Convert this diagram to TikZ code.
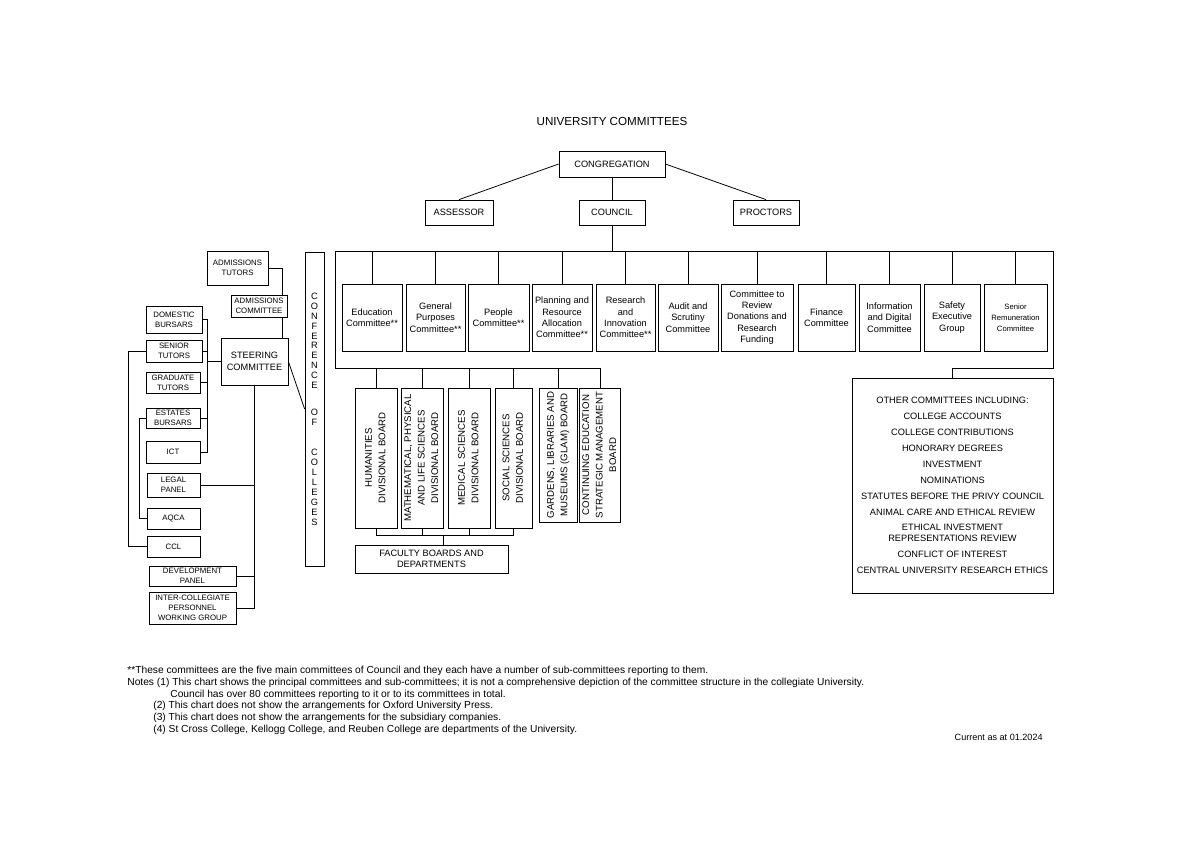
\documentclass[tikz,border=0pt]{standalone}
\usepackage{fontspec}
\setmainfont{Liberation Sans}
\usepackage{graphicx}
\usetikzlibrary{positioning,calc}

\newcommand{\vlabel}[1]{\rotatebox{90}{\begin{tabular}{@{}c@{}}#1\end{tabular}}}

\begin{document}
\begin{tikzpicture}[x=0.2475mm, y=-0.2475mm, line width=0.55pt,
    every node/.style={font=\fontsize{6.5}{7.9}\selectfont, align=center, inner sep=0pt},
    box/.style={draw, line width=0.55pt},
    sz/.style 2 args={minimum width=#1*0.2475mm, minimum height=#2*0.2475mm},
    comm/.style={box, minimum height=67*0.2475mm},
    small/.style={font=\fontsize{5.5}{7}\selectfont},
    board/.style={box, font=\fontsize{6.8}{9.5}\selectfont},
    note/.style={font=\fontsize{7.2}{8}\selectfont, align=left}]
  \useasboundingbox (0,0) rectangle (1200,849);

  \node[font=\fontsize{8.2}{9}\selectfont] (title) at (612,121) {UNIVERSITY COMMITTEES};

  % congregation and council
  \node[box, sz={106}{26}] (cong) at (612,164) {CONGREGATION};
  \node[box, sz={68}{25}] (assessor) at (459,212.5) {ASSESSOR};
  \node[box, sz={66}{25}] (council) at (612,212.5) {COUNCIL};
  \node[box, sz={66}{25}] (proctors) at (766,212.5) {PROCTORS};

  \draw (cong) -- (council);
  \draw (cong.west) -- (assessor.north);
  \draw (cong.east) -- (proctors.north);

  % committees of council
  \node[comm, minimum width=60*0.2475mm] (edu) at (372,317.5) {Education\\Committee**};
  \node[comm, minimum width=59*0.2475mm] (gp) at (435.5,317.5) {General\\Purposes\\Committee**};
  \node[comm, minimum width=61*0.2475mm] (people) at (498.5,317.5) {People\\Committee**};
  \node[comm, minimum width=60*0.2475mm] (plan) at (562,317.5) {Planning and\\Resource\\Allocation\\Committee**};
  \node[comm, minimum width=59*0.2475mm] (research) at (625.5,317.5) {Research\\and\\Innovation\\Committee**};
  \node[comm, minimum width=60*0.2475mm] (audit) at (688,317.5) {Audit and\\Scrutiny\\Committee};
  \node[comm, minimum width=72*0.2475mm] (review) at (757,317.5) {Committee to\\Review\\Donations and\\Research\\Funding};
  \node[comm, minimum width=57*0.2475mm] (finance) at (826.5,317.5) {Finance\\Committee};
  \node[comm, minimum width=61*0.2475mm] (info) at (889.5,317.5) {Information\\and Digital\\Committee};
  \node[comm, minimum width=56*0.2475mm] (safety) at (952,317.5) {Safety\\Executive\\Group};
  \node[comm, minimum width=63*0.2475mm, font=\fontsize{5.4}{7.7}\selectfont] (senrem) at (1015.5,317.5) {Senior\\Remuneration\\Committee};

  \coordinate (ctl) at (335,251);
  \coordinate (ctr) at (1053,251);
  \coordinate (cbl) at (335,368);
  \coordinate (cbr) at (1053,368);

  % divisional boards
  \node[board, sz={42}{140}] (hum) at (376,458) {\vlabel{HUMANITIES\\DIVISIONAL BOARD}};
  \node[board, sz={42}{140}] (math) at (422,458) {\vlabel{MATHEMATICAL, PHYSICAL\\AND LIFE SCIENCES\\DIVISIONAL BOARD}};
  \node[board, sz={42}{140}] (med) at (469,458) {\vlabel{MEDICAL SCIENCES\\DIVISIONAL BOARD}};
  \node[board, sz={37}{140}] (soc) at (513.5,458) {\vlabel{SOCIAL SCIENCES\\DIVISIONAL BOARD}};
  \node[board, sz={38}{134}] (gardens) at (558,455) {\vlabel{GARDENS, LIBRARIES AND\\MUSEUMS (GLAM) BOARD}};
  \node[board, sz={38}{134}] (cont) at (600,455) {\vlabel{CONTINUING EDUCATION\\STRATEGIC MANAGEMENT\\BOARD}};

  \node[box, sz={153}{28}, font=\fontsize{6.5}{7.7}\selectfont] (faculty) at (431.5,559) {FACULTY BOARDS AND\\DEPARTMENTS};

  \node[box, sz={201}{215}, font=\fontsize{6.5}{7.7}\selectfont] (other) at (952.5,485.5)
      {OTHER COMMITTEES INCLUDING:\\[3.5pt]
       COLLEGE ACCOUNTS\\[3.5pt]
       COLLEGE CONTRIBUTIONS\\[3.5pt]
       HONORARY DEGREES\\[3.5pt]
       INVESTMENT\\[3.5pt]
       NOMINATIONS\\[3.5pt]
       STATUTES BEFORE THE PRIVY COUNCIL\\[3.5pt]
       ANIMAL CARE AND ETHICAL REVIEW\\[3.5pt]
       ETHICAL INVESTMENT\\
       REPRESENTATIONS REVIEW\\[3.5pt]
       CONFLICT OF INTEREST\\[3.5pt]
       CENTRAL UNIVERSITY RESEARCH ETHICS};

  \draw (council) -- (council |- ctl);
  \draw (cont.north) |- (cbl) -- (ctl) -- (ctr) -- (cbr) -| (other.north);
  \foreach \c in {edu,gp,people,plan,research,audit,review,finance,info,safety,senrem}
    \draw (\c.north) -- (\c.north |- ctl);
  \foreach \b in {hum,math,med,soc,gardens}
    \draw (\b.north) -- (\b.north |- cbl);

  \coordinate (fbus) at (443,535);
  \draw (hum.south) |- (fbus) -| (soc.south);
  \foreach \b in {math,med}
    \draw (\b.south) -- (\b.south |- fbus);
  \draw (fbus) -- (fbus |- faculty.north);

  % conference of colleges
  \node[box, sz={19}{314}, font=\fontsize{6.5}{7}\selectfont] (conf) at (314.5,409)
      {C\\O\\N\\F\\E\\R\\E\\N\\C\\E\\[12pt]O\\F\\[14pt]C\\O\\L\\L\\E\\G\\E\\S};

  % college committees
  \node[box, small, sz={61}{34}] (admtut) at (237.5,268) {ADMISSIONS\\TUTORS};
  \node[box, small, sz={56}{22}] (admcom) at (259,306) {ADMISSIONS\\COMMITTEE};
  \node[box, sz={67}{47}, font=\fontsize{6.5}{8.5}\selectfont] (steer) at (254.5,361.5) {STEERING\\COMMITTEE};
  \node[box, small, sz={56}{27}] (domestic) at (174,319.5) {DOMESTIC\\BURSARS};
  \node[box, small, sz={56}{22}] (senior) at (174,351) {SENIOR\\TUTORS};
  \node[box, small, sz={54}{21}] (graduate) at (173,382.5) {GRADUATE\\TUTORS};
  \node[box, small, sz={54}{20}] (estates) at (173,418) {ESTATES\\BURSARS};
  \node[box, small, sz={54}{22}] (ict) at (173,452) {ICT};
  \node[box, small, sz={53}{24}] (legal) at (173.5,485) {LEGAL\\PANEL};
  \node[box, small, sz={53}{21}] (aqca) at (173.5,518.5) {AQCA};
  \node[box, small, sz={53}{21}] (ccl) at (173.5,546.5) {CCL};
  \node[box, small, sz={87}{20}] (devel) at (192.5,576) {DEVELOPMENT\\PANEL};
  \node[box, small, sz={87}{32}] (icpwg) at (192.5,608) {INTER-COLLEGIATE\\PERSONNEL\\WORKING GROUP};

  \coordinate (admx) at (282,0);
  \draw (admtut.east) -| (admx |- admcom.north);
  \draw (admx |- admcom.south) -- (admx |- steer.north);
  \draw (steer.east) -- (conf.west);

  \coordinate (lbus) at (207,0);
  \draw (domestic.east) -| (lbus |- ict.east) -- (ict.east);
  \foreach \s in {senior,graduate,estates}
    \draw (\s.east) -- (lbus |- \s.east);
  \draw (lbus |- steer.west) -- (steer.west);

  \coordinate (obus) at (128,0);
  \draw (senior.west) -| (obus |- ccl.west) -- (ccl.west);
  \coordinate (ibus) at (139,0);
  \draw (estates.west) -| (ibus |- aqca.west) -- (aqca.west);

  \draw (steer.south) |- (icpwg.east);
  \foreach \s in {legal,devel}
    \draw (\s.east) -- (steer.south |- \s.east);

  % notes
  \node[note, anchor=west] (n1) at (127,671) {**These committees are the five main committees of Council and they each have a number of sub-committees reporting to them.};
  \node[note, anchor=west] (n2) at (127,683) {Notes (1) This chart shows the principal committees and sub-committees; it is not a comprehensive depiction of the committee structure in the collegiate University.};
  \node[note, anchor=west] (n3) at (170,695) {Council has over 80 committees reporting to it or to its committees in total.};
  \node[note, anchor=west] (n4) at (153,706) {(2) This chart does not show the arrangements for Oxford University Press.};
  \node[note, anchor=west] (n5) at (153,718) {(3) This chart does not show the arrangements for the subsidiary companies.};
  \node[note, anchor=west] (n6) at (153,730) {(4) St Cross College, Kellogg College, and Reuben College are departments of the University.};
  \node[note, anchor=east, font=\fontsize{6.4}{8}\selectfont] (current) at (1043,737) {Current as at 01.2024};
\end{tikzpicture}
\end{document}
